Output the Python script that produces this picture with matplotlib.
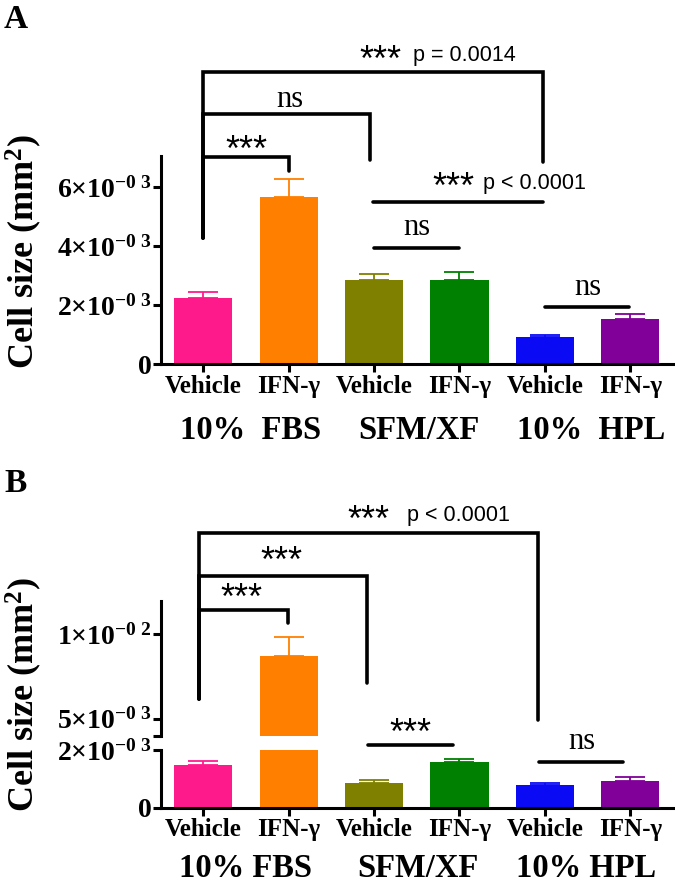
import numpy as np
import matplotlib.pyplot as plt
from matplotlib.transforms import offset_copy

plt.rcParams["font.family"] = "Liberation Serif"
plt.rcParams["mathtext.fontset"] = "custom"
plt.rcParams["mathtext.rm"] = "Liberation Serif"
plt.rcParams["mathtext.bf"] = "Liberation Serif:bold"
plt.rcParams["mathtext.it"] = "Liberation Serif:italic"

# ============================================================
# Datos
# ============================================================
bar_labels = ["Vehicle", "IFN-γ", "Vehicle", "IFN-γ", "Vehicle", "IFN-γ"]
groups_a = ["10%  FBS", "SFM/XF", "10%  HPL"]
groups_b = ["10% FBS", "SFM/XF", "10% HPL"]
colors = ["#FF1A8C", "#FF8000", "#808000", "#008000", "#0A0AF5", "#800099"]

mean_a = np.array([2.25, 5.65, 2.87, 2.87, 0.93, 1.53]) * 1e-3
sem_a = np.array([0.19, 0.63, 0.18, 0.25, 0.07, 0.16]) * 1e-3
mean_b = np.array([1.49, 8.70, 0.87, 1.58, 0.78, 0.94]) * 1e-3
sem_b = np.array([0.12, 1.12, 0.08, 0.11, 0.08, 0.13]) * 1e-3

yticks_a = [0, 2e-3, 4e-3, 6e-3]
yticklabels_a = ["0", r"$\mathbf{2×10^{-0\ 3}}$", r"$\mathbf{4×10^{-0\ 3}}$",
                 r"$\mathbf{6×10^{-0\ 3}}$"]
yticks_b_low = [0, 2e-3]
yticklabels_b_low = ["0", r"$\mathbf{2×10^{-0\ 3}}$"]
yticks_b_up = [4e-3, 5e-3, 1e-2]
yticklabels_b_up = ["", r"$\mathbf{5×10^{-0\ 3}}$", r"$\mathbf{1×10^{-0\ 2}}$"]

# brackets: (x izq, x der, y, fondo pata izq, fondo pata der)
brackets_a = [(0, 1, 7.02e-3, 4.28e-3, 6.54e-3),
              (0, 1.95, 8.48e-3, 4.28e-3, 6.90e-3),
              (0, 3.98, 9.89e-3, 4.28e-3, 6.84e-3)]
lines_a = [(1.99, 3.98, 5.49e-3), (2.0, 3.0, 3.94e-3), (4.0, 4.98, 1.95e-3)]
# textos: (x, y, texto, tipo)
texts_a = [(0.50, 7.24e-3, "***", "star"),
           (1.01, 8.70e-3, "ns", "ns"),
           (2.07, 10.30e-3, "***", "star"),
           (2.46, 10.28e-3, "p = 0.0014", "p"),
           (2.93, 6.00e-3, "***", "star"),
           (3.28, 5.95e-3, "p < 0.0001", "p"),
           (2.50, 4.37e-3, "ns", "ns"),
           (4.50, 2.36e-3, "ns", "ns")]

brackets_b = [(-0.05, 0.99, 11.45e-3, 6.17e-3, 10.66e-3),
              (-0.05, 1.92, 13.48e-3, 6.17e-3, 7.11e-3),
              (-0.05, 3.92, 16.04e-3, 6.17e-3, 4.92e-3)]
texts_b_up = [(0.45, 12.15e-3, "***", "star"),
              (0.92, 14.34e-3, "***", "star"),
              (1.93, 16.79e-3, "***", "star"),
              (2.38, 16.73e-3, "p < 0.0001", "p")]
lines_b = [(1.93, 2.92, 2.19e-3), (3.93, 4.92, 1.60e-3)]
texts_b_low = [(2.42, 2.61e-3, "***", "star"),
               (4.43, 2.04e-3, "ns", "ns")]

x = np.arange(len(bar_labels))
W, H = 675, 883
fig = plt.figure(figsize=(W / 100, H / 100), dpi=100)

STAR_SIZE = 26


def px_axes(left, top, right, bottom):
    ax = fig.add_axes([left / W, 1 - bottom / H, (right - left) / W, (bottom - top) / H])
    ax.patch.set_visible(False)
    return ax


def style_axis(ax, ticks, ticklabels, show_x=True):
    for s in ["top", "right"]:
        ax.spines[s].set_visible(False)
    ax.spines["left"].set_linewidth(2.2)
    ax.spines["bottom"].set_linewidth(2.2)
    ax.set_xlim(-0.5, 5.5)
    ax.set_yticks(ticks)
    ax.set_yticklabels(ticklabels, fontsize=20, fontweight="bold")
    ax.tick_params(axis="y", direction="out", length=6, width=2.2, pad=0.5)
    if show_x:
        ax.set_xticks(x)
        ax.set_xticklabels(bar_labels, fontsize=18, fontweight="bold")
        ax.tick_params(axis="x", direction="out", length=5.5, width=2.2, pad=2)
    else:
        ax.spines["bottom"].set_visible(False)
        ax.set_xticks([])


def draw_bars(ax, mean, sem):
    ax.bar(x, mean, width=0.68, color=colors, zorder=2)
    for i in range(len(x)):
        ax.errorbar(x[i], mean[i], yerr=[[0], [sem[i]]], color=colors[i],
                    elinewidth=1.3, capsize=11, capthick=1.3, zorder=1)


def draw_annot(ax, brackets, lines, texts):
    for x0, x1, y, yl, yr in brackets:
        ax.plot([x0, x0, x1, x1], [yl, y, y, yr], color="black", lw=2.6,
                solid_capstyle="round", solid_joinstyle="miter", clip_on=False)
    for x0, x1, y in lines:
        ax.plot([x0, x1], [y, y], color="black", lw=2.6, solid_capstyle="round",
                clip_on=False)
    for tx, ty, t, kind in texts:
        if kind == "star":
            tr = offset_copy(ax.transData, fig=fig, y=-0.30 * STAR_SIZE, units="points")
            ax.text(tx, ty, t, transform=tr, ha="center", va="baseline",
                    fontsize=STAR_SIZE, family="Liberation Sans", clip_on=False,
                    zorder=5)
        elif kind == "ns":
            ax.text(tx, ty, t, ha="center", va="baseline", fontsize=22,
                    clip_on=False, zorder=5)
        else:
            ax.text(tx, ty, t, ha="left", va="baseline", fontsize=15.5,
                    family="Liberation Sans", clip_on=False, zorder=5)


def group_labels(ax, names, centers, off):
    for nm, cx in zip(names, centers):
        ax.annotate(nm, xy=(cx, 0), xycoords=("data", "axes fraction"),
                    xytext=(0, -off), textcoords="offset points",
                    ha="center", va="center", fontsize=23.5, fontweight="bold",
                    annotation_clip=False)


# ============================================================
# Panel A
# ============================================================
ax_a = px_axes(160.6, 156, 673, 364.3)
draw_bars(ax_a, mean_a, sem_a)
ax_a.set_ylim(0, 7.05e-3)
style_axis(ax_a, yticks_a, yticklabels_a)
draw_annot(ax_a, brackets_a, lines_a, texts_a)
group_labels(ax_a, groups_a, [0.55, 2.53, 4.54], 48)

# ============================================================
# Panel B (eje quebrado)
# ============================================================
ax_bl = px_axes(160.6, 750.3, 673, 807.5)
ax_bu = px_axes(160.6, 600.7, 673, 735.7)
for ax in (ax_bl, ax_bu):
    draw_bars(ax, mean_b, sem_b)
ax_bl.set_ylim(0, 2e-3)
ax_bu.set_ylim(4e-3, 12e-3)
style_axis(ax_bl, yticks_b_low, yticklabels_b_low)
style_axis(ax_bu, yticks_b_up, yticklabels_b_up, show_x=False)
draw_annot(ax_bu, brackets_b, [], texts_b_up)
draw_annot(ax_bl, [], lines_b, texts_b_low)
group_labels(ax_bl, groups_b, [0.49, 2.51, 4.48], 44)

# etiquetas de eje y panel
ylab = r"Cell size (mm$^{\mathbf{2}}$)"
fig.text(24 / W, 1 - 252 / H, ylab, rotation=90, ha="center", va="center",
         fontsize=26, fontweight="bold")
fig.text(24 / W, 1 - 695 / H, ylab, rotation=90, ha="center", va="center",
         fontsize=26, fontweight="bold")
fig.text(4 / W, 1 - 4 / H, "A", ha="left", va="top", fontsize=24, fontweight="bold")
fig.text(4 / W, 1 - 468 / H, "B", ha="left", va="top", fontsize=24, fontweight="bold")

fig.savefig("out.png", dpi=100)
